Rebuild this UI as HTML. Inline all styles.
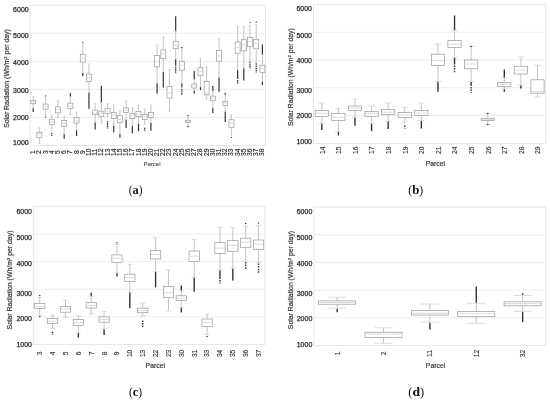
<!DOCTYPE html>
<html lang="en">
<head>
<meta charset="utf-8">
<title>Solar radiation per parcel box plots</title>
<style>
html,body{margin:0;padding:0;background:#ffffff;}
body{width:550px;height:401px;overflow:hidden;}
svg{display:block;}
.t{font-family:"Liberation Sans",Arial,sans-serif;font-size:7px;fill:#2b2b2b;stroke:#2b2b2b;stroke-width:0.25px;}
.tx{font-family:"Liberation Sans",Arial,sans-serif;fill:#2b2b2b;stroke:#2b2b2b;}
.yl{font-family:"Liberation Sans",Arial,sans-serif;font-size:6.9px;fill:#3a3a3a;stroke:#3a3a3a;stroke-width:0.2px;}
.xl{font-family:"Liberation Sans",Arial,sans-serif;fill:#3a3a3a;stroke:#3a3a3a;}
.cap{font-family:"Liberation Serif","Times New Roman",serif;font-size:12.3px;fill:#111111;}
</style>
</head>
<body>
<svg width="550" height="401" viewBox="0 0 550 401">
<rect x="0" y="0" width="550" height="401" fill="#ffffff"/>
<g class="panel-a">
<line x1="30.1" x2="265.5" y1="117.50" y2="117.50" stroke="#e8e8e8" stroke-width="0.8"/>
<line x1="30.1" x2="265.5" y1="89.40" y2="89.40" stroke="#e8e8e8" stroke-width="0.8"/>
<line x1="30.1" x2="265.5" y1="61.30" y2="61.30" stroke="#e8e8e8" stroke-width="0.8"/>
<line x1="30.1" x2="265.5" y1="33.20" y2="33.20" stroke="#e8e8e8" stroke-width="0.8"/>
<rect x="30.1" y="5.2" width="235.40" height="140.30" fill="none" stroke="#e1e1e1" stroke-width="0.8"/>
<text x="28.7" y="11.50" text-anchor="end" class="t">6000</text>
<text x="28.7" y="38.30" text-anchor="end" class="t">5000</text>
<text x="28.7" y="64.70" text-anchor="end" class="t">4000</text>
<text x="28.7" y="93.30" text-anchor="end" class="t">3000</text>
<text x="28.7" y="119.50" text-anchor="end" class="t">2000</text>
<text x="28.7" y="145.30" text-anchor="end" class="t">1000</text>
<text transform="translate(9.2,78.5) rotate(-90)" text-anchor="middle" class="yl" textLength="98.7" lengthAdjust="spacingAndGlyphs">Solar Radiation (Wh/m<tspan dy="-2" font-size="4.2">2</tspan><tspan dy="2"> per day)</tspan></text>
<text x="152" y="166.4" text-anchor="middle" class="xl" font-size="6.0" stroke-width="0.05">Parcel</text>
<path d="M33.20 96.73V100.40M33.20 103.76V107.83" stroke="#9c9c9c" stroke-width="0.60" fill="none"/>
<path d="M31.96 96.73H34.44M31.96 107.83H34.44" stroke="#c6c6c6" stroke-width="0.6" fill="none"/>
<rect x="30.72" y="100.40" width="4.96" height="3.36" fill="#ffffff" stroke="#989898" stroke-width="0.7"/>
<line x1="31.22" x2="35.18" y1="102.02" y2="102.02" stroke="#c2c2c2" stroke-width="0.6"/>
<line x1="33.20" x2="33.20" y1="108.34" y2="111.90" stroke="#333333" stroke-width="1.2"/>
<text transform="translate(35.20,152.2) rotate(-90)" text-anchor="middle" class="tx" font-size="6.7" stroke-width="0.15">1</text>
<path d="M39.39 127.78V132.26M39.39 137.46V143.56" stroke="#9c9c9c" stroke-width="0.60" fill="none"/>
<path d="M38.15 127.78H40.63M38.15 143.56H40.63" stroke="#c6c6c6" stroke-width="0.6" fill="none"/>
<rect x="36.91" y="132.26" width="4.96" height="5.20" fill="#ffffff" stroke="#989898" stroke-width="0.7"/>
<line x1="37.41" x2="41.37" y1="134.10" y2="134.10" stroke="#c2c2c2" stroke-width="0.6"/>
<text transform="translate(41.39,152.2) rotate(-90)" text-anchor="middle" class="tx" font-size="6.7" stroke-width="0.15">2</text>
<path d="M45.59 97.85V104.06M45.59 109.15V115.67" stroke="#9c9c9c" stroke-width="0.60" fill="none"/>
<path d="M44.35 97.85H46.83M44.35 115.67H46.83" stroke="#c6c6c6" stroke-width="0.6" fill="none"/>
<rect x="43.11" y="104.06" width="4.96" height="5.09" fill="#ffffff" stroke="#989898" stroke-width="0.7"/>
<line x1="43.61" x2="47.56" y1="106.91" y2="106.91" stroke="#c2c2c2" stroke-width="0.6"/>
<circle cx="45.59" cy="95.91" r="0.66" fill="#333333"/>
<circle cx="45.59" cy="117.09" r="0.66" fill="#333333"/>
<text transform="translate(47.59,152.2) rotate(-90)" text-anchor="middle" class="tx" font-size="6.7" stroke-width="0.15">3</text>
<path d="M51.78 115.67V119.23M51.78 124.42V129.11" stroke="#9c9c9c" stroke-width="0.60" fill="none"/>
<path d="M50.54 115.67H53.02M50.54 129.11H53.02" stroke="#c6c6c6" stroke-width="0.6" fill="none"/>
<rect x="49.30" y="119.23" width="4.96" height="5.19" fill="#ffffff" stroke="#989898" stroke-width="0.7"/>
<line x1="49.80" x2="53.76" y1="122.08" y2="122.08" stroke="#c2c2c2" stroke-width="0.6"/>
<line x1="51.78" x2="51.78" y1="132.77" y2="136.03" stroke="#333333" stroke-width="1.2" stroke-dasharray="1.6 0.6"/>
<text transform="translate(53.78,152.2) rotate(-90)" text-anchor="middle" class="tx" font-size="6.7" stroke-width="0.15">4</text>
<path d="M57.98 100.40V106.91M57.98 112.82V118.01" stroke="#9c9c9c" stroke-width="0.60" fill="none"/>
<path d="M56.74 100.40H59.22M56.74 118.01H59.22" stroke="#c6c6c6" stroke-width="0.6" fill="none"/>
<rect x="55.50" y="106.91" width="4.96" height="5.91" fill="#ffffff" stroke="#989898" stroke-width="0.7"/>
<line x1="56.00" x2="59.95" y1="109.56" y2="109.56" stroke="#c2c2c2" stroke-width="0.6"/>
<text transform="translate(59.97,152.2) rotate(-90)" text-anchor="middle" class="tx" font-size="6.7" stroke-width="0.15">5</text>
<path d="M64.17 116.18V120.35M64.17 126.36V133.69" stroke="#9c9c9c" stroke-width="0.60" fill="none"/>
<path d="M62.93 116.18H65.41M62.93 133.69H65.41" stroke="#c6c6c6" stroke-width="0.6" fill="none"/>
<rect x="61.69" y="120.35" width="4.96" height="6.01" fill="#ffffff" stroke="#989898" stroke-width="0.7"/>
<line x1="62.19" x2="66.15" y1="123.51" y2="123.51" stroke="#c2c2c2" stroke-width="0.6"/>
<line x1="64.17" x2="64.17" y1="134.20" y2="138.68" stroke="#333333" stroke-width="1.2"/>
<text transform="translate(66.17,152.2) rotate(-90)" text-anchor="middle" class="tx" font-size="6.7" stroke-width="0.15">6</text>
<path d="M70.37 96.73V103.14M70.37 108.54V114.85" stroke="#9c9c9c" stroke-width="0.60" fill="none"/>
<path d="M69.13 96.73H71.60M69.13 114.85H71.60" stroke="#c6c6c6" stroke-width="0.6" fill="none"/>
<rect x="67.89" y="103.14" width="4.96" height="5.40" fill="#ffffff" stroke="#989898" stroke-width="0.7"/>
<line x1="68.39" x2="72.34" y1="106.00" y2="106.00" stroke="#c2c2c2" stroke-width="0.6"/>
<line x1="70.37" x2="70.37" y1="92.96" y2="96.32" stroke="#333333" stroke-width="1.2"/>
<text transform="translate(72.36,152.2) rotate(-90)" text-anchor="middle" class="tx" font-size="6.7" stroke-width="0.15">7</text>
<path d="M76.56 112.10V117.60M76.56 123.00V129.92" stroke="#9c9c9c" stroke-width="0.60" fill="none"/>
<path d="M75.32 112.10H77.80M75.32 129.92H77.80" stroke="#c6c6c6" stroke-width="0.6" fill="none"/>
<rect x="74.08" y="117.60" width="4.96" height="5.40" fill="#ffffff" stroke="#989898" stroke-width="0.7"/>
<line x1="74.58" x2="78.54" y1="120.25" y2="120.25" stroke="#c2c2c2" stroke-width="0.6"/>
<line x1="76.56" x2="76.56" y1="130.43" y2="136.03" stroke="#333333" stroke-width="1.2"/>
<text transform="translate(78.56,152.2) rotate(-90)" text-anchor="middle" class="tx" font-size="6.7" stroke-width="0.15">8</text>
<path d="M82.76 43.89V54.48M82.76 62.11V72.60" stroke="#9c9c9c" stroke-width="0.60" fill="none"/>
<path d="M81.52 43.89H83.99M81.52 72.60H83.99" stroke="#c6c6c6" stroke-width="0.6" fill="none"/>
<rect x="80.28" y="54.48" width="4.96" height="7.63" fill="#ffffff" stroke="#989898" stroke-width="0.7"/>
<line x1="80.78" x2="84.73" y1="58.14" y2="58.14" stroke="#c2c2c2" stroke-width="0.6"/>
<circle cx="82.76" cy="42.16" r="0.66" fill="#333333"/>
<line x1="82.76" x2="82.76" y1="73.11" y2="76.37" stroke="#333333" stroke-width="1.2"/>
<text transform="translate(84.75,152.2) rotate(-90)" text-anchor="middle" class="tx" font-size="6.7" stroke-width="0.15">9</text>
<path d="M88.95 63.95V74.13M88.95 81.56V92.25" stroke="#9c9c9c" stroke-width="0.60" fill="none"/>
<path d="M87.71 63.95H90.19M87.71 92.25H90.19" stroke="#c6c6c6" stroke-width="0.6" fill="none"/>
<rect x="86.47" y="74.13" width="4.96" height="7.43" fill="#ffffff" stroke="#989898" stroke-width="0.7"/>
<line x1="86.97" x2="90.93" y1="77.59" y2="77.59" stroke="#c2c2c2" stroke-width="0.6"/>
<line x1="88.95" x2="88.95" y1="92.76" y2="108.74" stroke="#333333" stroke-width="1.2"/>
<text transform="translate(90.95,152.2) rotate(-90)" text-anchor="middle" class="tx" font-size="6.7" stroke-width="0.15">10</text>
<path d="M95.14 103.55V110.07M95.14 114.75V122.08" stroke="#9c9c9c" stroke-width="0.60" fill="none"/>
<path d="M93.91 103.55H96.38M93.91 122.08H96.38" stroke="#c6c6c6" stroke-width="0.6" fill="none"/>
<rect x="92.67" y="110.07" width="4.96" height="4.68" fill="#ffffff" stroke="#989898" stroke-width="0.7"/>
<line x1="93.17" x2="97.12" y1="113.02" y2="113.02" stroke="#c2c2c2" stroke-width="0.6"/>
<line x1="95.14" x2="95.14" y1="122.59" y2="129.51" stroke="#333333" stroke-width="1.2"/>
<text transform="translate(97.14,152.2) rotate(-90)" text-anchor="middle" class="tx" font-size="6.7" stroke-width="0.15">11</text>
<path d="M101.34 102.84V111.19M101.34 116.48V123.20" stroke="#9c9c9c" stroke-width="0.60" fill="none"/>
<path d="M100.10 102.84H102.58M100.10 123.20H102.58" stroke="#c6c6c6" stroke-width="0.6" fill="none"/>
<rect x="98.86" y="111.19" width="4.96" height="5.29" fill="#ffffff" stroke="#989898" stroke-width="0.7"/>
<line x1="99.36" x2="103.32" y1="113.33" y2="113.33" stroke="#c2c2c2" stroke-width="0.6"/>
<line x1="101.34" x2="101.34" y1="85.63" y2="102.33" stroke="#333333" stroke-width="1.2"/>
<text transform="translate(103.34,152.2) rotate(-90)" text-anchor="middle" class="tx" font-size="6.7" stroke-width="0.15">12</text>
<path d="M107.53 103.45V108.74M107.53 113.33V116.48" stroke="#9c9c9c" stroke-width="0.60" fill="none"/>
<path d="M106.30 103.45H108.77M106.30 116.48H108.77" stroke="#c6c6c6" stroke-width="0.6" fill="none"/>
<rect x="105.06" y="108.74" width="4.96" height="4.59" fill="#ffffff" stroke="#989898" stroke-width="0.7"/>
<line x1="105.56" x2="109.51" y1="111.09" y2="111.09" stroke="#c2c2c2" stroke-width="0.6"/>
<line x1="107.53" x2="107.53" y1="121.17" y2="128.50" stroke="#333333" stroke-width="1.2" stroke-dasharray="1.6 0.6"/>
<text transform="translate(109.53,152.2) rotate(-90)" text-anchor="middle" class="tx" font-size="6.7" stroke-width="0.15">13</text>
<path d="M113.73 104.85V112.35M113.73 118.43V125.43" stroke="#9c9c9c" stroke-width="0.60" fill="none"/>
<path d="M112.49 104.85H114.97M112.49 125.43H114.97" stroke="#c6c6c6" stroke-width="0.6" fill="none"/>
<rect x="111.25" y="112.35" width="4.96" height="6.08" fill="#ffffff" stroke="#989898" stroke-width="0.7"/>
<line x1="111.75" x2="115.71" y1="115.29" y2="115.29" stroke="#c2c2c2" stroke-width="0.6"/>
<line x1="113.73" x2="113.73" y1="125.93" y2="132.22" stroke="#333333" stroke-width="1.2"/>
<text transform="translate(115.73,152.2) rotate(-90)" text-anchor="middle" class="tx" font-size="6.7" stroke-width="0.15">14</text>
<path d="M119.92 110.12V115.59M119.92 122.59V133.74" stroke="#9c9c9c" stroke-width="0.60" fill="none"/>
<path d="M118.68 110.12H121.16M118.68 133.74H121.16" stroke="#c6c6c6" stroke-width="0.6" fill="none"/>
<rect x="117.45" y="115.59" width="4.96" height="7.00" fill="#ffffff" stroke="#989898" stroke-width="0.7"/>
<line x1="117.95" x2="121.90" y1="119.34" y2="119.34" stroke="#c2c2c2" stroke-width="0.6"/>
<line x1="119.92" x2="119.92" y1="134.25" y2="137.79" stroke="#333333" stroke-width="1.2"/>
<text transform="translate(121.92,152.2) rotate(-90)" text-anchor="middle" class="tx" font-size="6.7" stroke-width="0.15">15</text>
<path d="M126.12 100.79V107.89M126.12 112.35V119.34" stroke="#9c9c9c" stroke-width="0.60" fill="none"/>
<path d="M124.88 100.79H127.36M124.88 119.34H127.36" stroke="#c6c6c6" stroke-width="0.6" fill="none"/>
<rect x="123.64" y="107.89" width="4.96" height="4.46" fill="#ffffff" stroke="#989898" stroke-width="0.7"/>
<line x1="124.14" x2="128.10" y1="110.12" y2="110.12" stroke="#c2c2c2" stroke-width="0.6"/>
<line x1="126.12" x2="126.12" y1="119.85" y2="127.96" stroke="#333333" stroke-width="1.2"/>
<text transform="translate(128.12,152.2) rotate(-90)" text-anchor="middle" class="tx" font-size="6.7" stroke-width="0.15">16</text>
<path d="M132.31 107.89V113.47M132.31 118.43V125.43" stroke="#9c9c9c" stroke-width="0.60" fill="none"/>
<path d="M131.07 107.89H133.55M131.07 125.43H133.55" stroke="#c6c6c6" stroke-width="0.6" fill="none"/>
<rect x="129.84" y="113.47" width="4.96" height="4.96" fill="#ffffff" stroke="#989898" stroke-width="0.7"/>
<line x1="130.34" x2="134.29" y1="115.59" y2="115.59" stroke="#c2c2c2" stroke-width="0.6"/>
<line x1="132.31" x2="132.31" y1="125.93" y2="133.23" stroke="#333333" stroke-width="1.2"/>
<text transform="translate(134.31,152.2) rotate(-90)" text-anchor="middle" class="tx" font-size="6.7" stroke-width="0.15">17</text>
<path d="M138.51 104.85V111.44M138.51 116.51V123.40" stroke="#9c9c9c" stroke-width="0.60" fill="none"/>
<path d="M137.27 104.85H139.75M137.27 123.40H139.75" stroke="#c6c6c6" stroke-width="0.6" fill="none"/>
<rect x="136.03" y="111.44" width="4.96" height="5.07" fill="#ffffff" stroke="#989898" stroke-width="0.7"/>
<line x1="136.53" x2="140.49" y1="114.18" y2="114.18" stroke="#c2c2c2" stroke-width="0.6"/>
<line x1="138.51" x2="138.51" y1="123.91" y2="131.21" stroke="#333333" stroke-width="1.2"/>
<text transform="translate(140.51,152.2) rotate(-90)" text-anchor="middle" class="tx" font-size="6.7" stroke-width="0.15">18</text>
<path d="M144.70 109.21V114.38M144.70 119.65V124.31" stroke="#9c9c9c" stroke-width="0.60" fill="none"/>
<path d="M143.46 109.21H145.94M143.46 124.31H145.94" stroke="#c6c6c6" stroke-width="0.6" fill="none"/>
<rect x="142.22" y="114.38" width="4.96" height="5.27" fill="#ffffff" stroke="#989898" stroke-width="0.7"/>
<line x1="142.72" x2="146.68" y1="117.01" y2="117.01" stroke="#c2c2c2" stroke-width="0.6"/>
<line x1="144.70" x2="144.70" y1="127.66" y2="130.70" stroke="#333333" stroke-width="1.2" stroke-dasharray="1.6 0.6"/>
<text transform="translate(146.70,152.2) rotate(-90)" text-anchor="middle" class="tx" font-size="6.7" stroke-width="0.15">19</text>
<path d="M150.90 104.85V112.35M150.90 117.52V122.59" stroke="#9c9c9c" stroke-width="0.60" fill="none"/>
<path d="M149.66 104.85H152.14M149.66 122.59H152.14" stroke="#c6c6c6" stroke-width="0.6" fill="none"/>
<rect x="148.42" y="112.35" width="4.96" height="5.17" fill="#ffffff" stroke="#989898" stroke-width="0.7"/>
<line x1="148.92" x2="152.88" y1="114.99" y2="114.99" stroke="#c2c2c2" stroke-width="0.6"/>
<line x1="150.90" x2="150.90" y1="123.10" y2="130.70" stroke="#333333" stroke-width="1.2"/>
<text transform="translate(152.90,152.2) rotate(-90)" text-anchor="middle" class="tx" font-size="6.7" stroke-width="0.15">20</text>
<path d="M157.09 45.04V55.38M157.09 66.83V83.05" stroke="#9c9c9c" stroke-width="0.60" fill="none"/>
<path d="M155.85 45.04H158.33M155.85 83.05H158.33" stroke="#c6c6c6" stroke-width="0.6" fill="none"/>
<rect x="154.61" y="55.38" width="4.96" height="11.45" fill="#ffffff" stroke="#989898" stroke-width="0.7"/>
<line x1="155.11" x2="159.07" y1="61.66" y2="61.66" stroke="#c2c2c2" stroke-width="0.6"/>
<line x1="157.09" x2="157.09" y1="83.56" y2="93.50" stroke="#333333" stroke-width="1.2"/>
<text transform="translate(159.09,152.2) rotate(-90)" text-anchor="middle" class="tx" font-size="6.7" stroke-width="0.15">21</text>
<path d="M163.29 36.87V49.90M163.29 58.65V71.38" stroke="#9c9c9c" stroke-width="0.60" fill="none"/>
<path d="M162.05 36.87H164.53M162.05 71.38H164.53" stroke="#c6c6c6" stroke-width="0.6" fill="none"/>
<rect x="160.81" y="49.90" width="4.96" height="8.75" fill="#ffffff" stroke="#989898" stroke-width="0.7"/>
<line x1="161.31" x2="165.26" y1="54.07" y2="54.07" stroke="#c2c2c2" stroke-width="0.6"/>
<line x1="163.29" x2="163.29" y1="71.89" y2="87.47" stroke="#333333" stroke-width="1.2"/>
<text transform="translate(165.29,152.2) rotate(-90)" text-anchor="middle" class="tx" font-size="6.7" stroke-width="0.15">22</text>
<path d="M169.48 69.85V86.55M169.48 98.05V111.59" stroke="#9c9c9c" stroke-width="0.60" fill="none"/>
<path d="M168.24 69.85H170.72M168.24 111.59H170.72" stroke="#c6c6c6" stroke-width="0.6" fill="none"/>
<rect x="167.00" y="86.55" width="4.96" height="11.50" fill="#ffffff" stroke="#989898" stroke-width="0.7"/>
<line x1="167.50" x2="171.46" y1="92.96" y2="92.96" stroke="#c2c2c2" stroke-width="0.6"/>
<text transform="translate(171.48,152.2) rotate(-90)" text-anchor="middle" class="tx" font-size="6.7" stroke-width="0.15">23</text>
<path d="M175.68 31.36V41.39M175.68 48.69V58.73" stroke="#9c9c9c" stroke-width="0.60" fill="none"/>
<path d="M174.44 31.36H176.92M174.44 58.73H176.92" stroke="#c6c6c6" stroke-width="0.6" fill="none"/>
<rect x="173.20" y="41.39" width="4.96" height="7.30" fill="#ffffff" stroke="#989898" stroke-width="0.7"/>
<line x1="173.70" x2="177.65" y1="45.24" y2="45.24" stroke="#c2c2c2" stroke-width="0.6"/>
<line x1="175.68" x2="175.68" y1="16.15" y2="30.85" stroke="#333333" stroke-width="1.2"/>
<line x1="175.68" x2="175.68" y1="59.23" y2="65.82" stroke="#333333" stroke-width="1.2"/>
<line x1="175.68" x2="175.68" y1="66.83" y2="73.83" stroke="#333333" stroke-width="1.2" stroke-dasharray="1.6 0.6"/>
<text transform="translate(177.67,152.2) rotate(-90)" text-anchor="middle" class="tx" font-size="6.7" stroke-width="0.15">24</text>
<path d="M181.87 47.47V61.26M181.87 70.08V83.05" stroke="#9c9c9c" stroke-width="0.60" fill="none"/>
<path d="M180.63 47.47H183.11M180.63 83.05H183.11" stroke="#c6c6c6" stroke-width="0.6" fill="none"/>
<rect x="179.39" y="61.26" width="4.96" height="8.82" fill="#ffffff" stroke="#989898" stroke-width="0.7"/>
<line x1="179.89" x2="183.85" y1="65.31" y2="65.31" stroke="#c2c2c2" stroke-width="0.6"/>
<circle cx="181.87" cy="47.48" r="0.66" fill="#333333"/>
<line x1="181.87" x2="181.87" y1="83.56" y2="87.62" stroke="#333333" stroke-width="1.2"/>
<line x1="181.87" x2="181.87" y1="88.63" y2="94.71" stroke="#333333" stroke-width="1.2" stroke-dasharray="1.6 0.6"/>
<text transform="translate(183.87,152.2) rotate(-90)" text-anchor="middle" class="tx" font-size="6.7" stroke-width="0.15">25</text>
<path d="M188.07 115.59V120.26M188.07 122.49V126.64" stroke="#9c9c9c" stroke-width="0.60" fill="none"/>
<path d="M186.83 115.59H189.30M186.83 126.64H189.30" stroke="#c6c6c6" stroke-width="0.6" fill="none"/>
<rect x="185.59" y="120.26" width="4.96" height="2.23" fill="#ffffff" stroke="#989898" stroke-width="0.7"/>
<line x1="186.09" x2="190.04" y1="121.37" y2="121.37" stroke="#c2c2c2" stroke-width="0.6"/>
<circle cx="188.07" cy="115.59" r="0.66" fill="#333333"/>
<circle cx="188.07" cy="126.75" r="0.66" fill="#333333"/>
<text transform="translate(190.06,152.2) rotate(-90)" text-anchor="middle" class="tx" font-size="6.7" stroke-width="0.15">26</text>
<path d="M194.26 79.30V83.97M194.26 88.02V90.66" stroke="#9c9c9c" stroke-width="0.60" fill="none"/>
<path d="M193.02 79.30H195.50M193.02 90.66H195.50" stroke="#c6c6c6" stroke-width="0.6" fill="none"/>
<rect x="191.78" y="83.97" width="4.96" height="4.05" fill="#ffffff" stroke="#989898" stroke-width="0.7"/>
<line x1="192.28" x2="196.24" y1="85.99" y2="85.99" stroke="#c2c2c2" stroke-width="0.6"/>
<line x1="194.26" x2="194.26" y1="70.89" y2="78.90" stroke="#333333" stroke-width="1.2"/>
<line x1="194.26" x2="194.26" y1="91.06" y2="93.50" stroke="#333333" stroke-width="1.2"/>
<text transform="translate(196.26,152.2) rotate(-90)" text-anchor="middle" class="tx" font-size="6.7" stroke-width="0.15">27</text>
<path d="M200.46 58.22V67.65M200.46 75.45V86.60" stroke="#9c9c9c" stroke-width="0.60" fill="none"/>
<path d="M199.22 58.22H201.69M199.22 86.60H201.69" stroke="#c6c6c6" stroke-width="0.6" fill="none"/>
<rect x="197.98" y="67.65" width="4.96" height="7.80" fill="#ffffff" stroke="#989898" stroke-width="0.7"/>
<line x1="198.48" x2="202.43" y1="71.40" y2="71.40" stroke="#c2c2c2" stroke-width="0.6"/>
<line x1="200.46" x2="200.46" y1="87.11" y2="90.15" stroke="#333333" stroke-width="1.2"/>
<text transform="translate(202.45,152.2) rotate(-90)" text-anchor="middle" class="tx" font-size="6.7" stroke-width="0.15">28</text>
<path d="M206.65 66.63V81.33M206.65 94.91V98.97" stroke="#9c9c9c" stroke-width="0.60" fill="none"/>
<path d="M205.41 66.63H207.89M205.41 98.97H207.89" stroke="#c6c6c6" stroke-width="0.6" fill="none"/>
<rect x="204.17" y="81.33" width="4.96" height="13.58" fill="#ffffff" stroke="#989898" stroke-width="0.7"/>
<line x1="204.67" x2="208.63" y1="93.19" y2="93.19" stroke="#c2c2c2" stroke-width="0.6"/>
<text transform="translate(208.65,152.2) rotate(-90)" text-anchor="middle" class="tx" font-size="6.7" stroke-width="0.15">29</text>
<path d="M212.84 91.23V96.12M212.84 100.80V107.83" stroke="#9c9c9c" stroke-width="0.60" fill="none"/>
<path d="M211.61 91.23H214.08M211.61 107.83H214.08" stroke="#c6c6c6" stroke-width="0.6" fill="none"/>
<rect x="210.37" y="96.12" width="4.96" height="4.68" fill="#ffffff" stroke="#989898" stroke-width="0.7"/>
<line x1="210.87" x2="214.82" y1="98.56" y2="98.56" stroke="#c2c2c2" stroke-width="0.6"/>
<line x1="212.84" x2="212.84" y1="85.63" y2="90.72" stroke="#333333" stroke-width="1.2"/>
<line x1="212.84" x2="212.84" y1="108.34" y2="113.12" stroke="#333333" stroke-width="1.2"/>
<text transform="translate(214.84,152.2) rotate(-90)" text-anchor="middle" class="tx" font-size="6.7" stroke-width="0.15">30</text>
<path d="M219.04 38.80V50.51M219.04 61.20V77.28" stroke="#9c9c9c" stroke-width="0.60" fill="none"/>
<path d="M217.80 38.80H220.28M217.80 77.28H220.28" stroke="#c6c6c6" stroke-width="0.6" fill="none"/>
<rect x="216.56" y="50.51" width="4.96" height="10.69" fill="#ffffff" stroke="#989898" stroke-width="0.7"/>
<line x1="217.06" x2="221.02" y1="55.80" y2="55.80" stroke="#c2c2c2" stroke-width="0.6"/>
<line x1="219.04" x2="219.04" y1="77.79" y2="92.05" stroke="#333333" stroke-width="1.2"/>
<text transform="translate(221.04,152.2) rotate(-90)" text-anchor="middle" class="tx" font-size="6.7" stroke-width="0.15">31</text>
<path d="M225.23 94.90V101.31M225.23 105.38V111.19" stroke="#9c9c9c" stroke-width="0.60" fill="none"/>
<path d="M224.00 94.90H226.47M224.00 111.19H226.47" stroke="#c6c6c6" stroke-width="0.6" fill="none"/>
<rect x="222.76" y="101.31" width="4.96" height="4.07" fill="#ffffff" stroke="#989898" stroke-width="0.7"/>
<line x1="223.26" x2="227.21" y1="103.14" y2="103.14" stroke="#c2c2c2" stroke-width="0.6"/>
<line x1="225.23" x2="225.23" y1="92.66" y2="94.39" stroke="#333333" stroke-width="1.2"/>
<line x1="225.23" x2="225.23" y1="111.70" y2="122.08" stroke="#333333" stroke-width="1.2"/>
<text transform="translate(227.23,152.2) rotate(-90)" text-anchor="middle" class="tx" font-size="6.7" stroke-width="0.15">32</text>
<path d="M231.43 114.85V119.74M231.43 127.27V135.52" stroke="#9c9c9c" stroke-width="0.60" fill="none"/>
<path d="M230.19 114.85H232.67M230.19 135.52H232.67" stroke="#c6c6c6" stroke-width="0.6" fill="none"/>
<rect x="228.95" y="119.74" width="4.96" height="7.53" fill="#ffffff" stroke="#989898" stroke-width="0.7"/>
<line x1="229.45" x2="233.41" y1="123.30" y2="123.30" stroke="#c2c2c2" stroke-width="0.6"/>
<circle cx="231.43" cy="137.46" r="0.66" fill="#333333"/>
<text transform="translate(233.43,152.2) rotate(-90)" text-anchor="middle" class="tx" font-size="6.7" stroke-width="0.15">33</text>
<path d="M237.62 26.38V42.06M237.62 53.16V69.85" stroke="#9c9c9c" stroke-width="0.60" fill="none"/>
<path d="M236.38 26.38H238.86M236.38 69.85H238.86" stroke="#c6c6c6" stroke-width="0.6" fill="none"/>
<rect x="235.15" y="42.06" width="4.96" height="11.10" fill="#ffffff" stroke="#989898" stroke-width="0.7"/>
<line x1="235.65" x2="239.60" y1="47.66" y2="47.66" stroke="#c2c2c2" stroke-width="0.6"/>
<line x1="237.62" x2="237.62" y1="70.36" y2="79.02" stroke="#333333" stroke-width="1.2"/>
<line x1="237.62" x2="237.62" y1="80.03" y2="83.70" stroke="#333333" stroke-width="1.2" stroke-dasharray="1.6 0.6"/>
<text transform="translate(239.62,152.2) rotate(-90)" text-anchor="middle" class="tx" font-size="6.7" stroke-width="0.15">34</text>
<path d="M243.82 26.38V39.72M243.82 50.81V68.02" stroke="#9c9c9c" stroke-width="0.60" fill="none"/>
<path d="M242.58 26.38H245.06M242.58 68.02H245.06" stroke="#c6c6c6" stroke-width="0.6" fill="none"/>
<rect x="241.34" y="39.72" width="4.96" height="11.09" fill="#ffffff" stroke="#989898" stroke-width="0.7"/>
<line x1="241.84" x2="245.80" y1="44.91" y2="44.91" stroke="#c2c2c2" stroke-width="0.6"/>
<line x1="243.82" x2="243.82" y1="68.53" y2="80.44" stroke="#333333" stroke-width="1.2"/>
<text transform="translate(245.82,152.2) rotate(-90)" text-anchor="middle" class="tx" font-size="6.7" stroke-width="0.15">35</text>
<path d="M250.01 25.46V37.48M250.01 46.74V60.69" stroke="#9c9c9c" stroke-width="0.60" fill="none"/>
<path d="M248.77 25.46H251.25M248.77 60.69H251.25" stroke="#c6c6c6" stroke-width="0.6" fill="none"/>
<rect x="247.54" y="37.48" width="4.96" height="9.26" fill="#ffffff" stroke="#989898" stroke-width="0.7"/>
<line x1="248.04" x2="251.99" y1="41.55" y2="41.55" stroke="#c2c2c2" stroke-width="0.6"/>
<circle cx="250.01" cy="22.61" r="0.66" fill="#333333"/>
<line x1="250.01" x2="250.01" y1="61.71" y2="68.83" stroke="#333333" stroke-width="1.2" stroke-dasharray="1.6 0.6"/>
<text transform="translate(252.01,152.2) rotate(-90)" text-anchor="middle" class="tx" font-size="6.7" stroke-width="0.15">36</text>
<path d="M256.21 24.55V39.31M256.21 48.78V62.42" stroke="#9c9c9c" stroke-width="0.60" fill="none"/>
<path d="M254.97 24.55H257.45M254.97 62.42H257.45" stroke="#c6c6c6" stroke-width="0.6" fill="none"/>
<rect x="253.73" y="39.31" width="4.96" height="9.47" fill="#ffffff" stroke="#989898" stroke-width="0.7"/>
<line x1="254.23" x2="258.19" y1="43.58" y2="43.58" stroke="#c2c2c2" stroke-width="0.6"/>
<circle cx="256.21" cy="22.00" r="0.66" fill="#333333"/>
<line x1="256.21" x2="256.21" y1="63.23" y2="72.60" stroke="#333333" stroke-width="1.2" stroke-dasharray="1.6 0.6"/>
<text transform="translate(258.21,152.2) rotate(-90)" text-anchor="middle" class="tx" font-size="6.7" stroke-width="0.15">37</text>
<path d="M262.40 54.50V65.20M262.40 72.30V81.50" stroke="#9c9c9c" stroke-width="0.60" fill="none"/>
<path d="M261.16 54.50H263.64M261.16 81.50H263.64" stroke="#c6c6c6" stroke-width="0.6" fill="none"/>
<rect x="259.92" y="65.20" width="4.96" height="7.10" fill="#ffffff" stroke="#989898" stroke-width="0.7"/>
<line x1="260.42" x2="264.38" y1="68.40" y2="68.40" stroke="#c2c2c2" stroke-width="0.6"/>
<line x1="262.40" x2="262.40" y1="44.40" y2="54.30" stroke="#333333" stroke-width="1.2"/>
<line x1="262.40" x2="262.40" y1="82.00" y2="85.00" stroke="#333333" stroke-width="1.2"/>
<text transform="translate(264.40,152.2) rotate(-90)" text-anchor="middle" class="tx" font-size="6.7" stroke-width="0.15">38</text>
<text x="135.6" y="193.5" text-anchor="middle" class="cap" textLength="13.8" lengthAdjust="spacingAndGlyphs">(<tspan font-weight="bold" font-size="13.4">a</tspan>)</text>
</g>
<g class="panel-b">
<line x1="313.5" x2="545.8" y1="115.48" y2="115.48" stroke="#e8e8e8" stroke-width="0.8"/>
<line x1="313.5" x2="545.8" y1="87.76" y2="87.76" stroke="#e8e8e8" stroke-width="0.8"/>
<line x1="313.5" x2="545.8" y1="60.04" y2="60.04" stroke="#e8e8e8" stroke-width="0.8"/>
<line x1="313.5" x2="545.8" y1="32.32" y2="32.32" stroke="#e8e8e8" stroke-width="0.8"/>
<rect x="313.5" y="4.2" width="232.30" height="139.30" fill="none" stroke="#e1e1e1" stroke-width="0.8"/>
<text x="312.0" y="11.25" text-anchor="end" class="t">6000</text>
<text x="312.0" y="37.50" text-anchor="end" class="t">5000</text>
<text x="312.0" y="63.25" text-anchor="end" class="t">4000</text>
<text x="312.0" y="92.50" text-anchor="end" class="t">3000</text>
<text x="312.0" y="118.00" text-anchor="end" class="t">2000</text>
<text x="312.0" y="144.25" text-anchor="end" class="t">1000</text>
<text transform="translate(292.9,77.15) rotate(-90)" text-anchor="middle" class="yl" textLength="97.9" lengthAdjust="spacingAndGlyphs">Solar Radiation (Wh/m<tspan dy="-2" font-size="4.2">2</tspan><tspan dy="2"> per day)</tspan></text>
<text x="435.4" y="166.0" text-anchor="middle" class="xl" font-size="6.75" stroke-width="0.2">Parcel</text>
<path d="M321.80 103.00V110.40M321.80 116.40V123.30" stroke="#9c9c9c" stroke-width="0.60" fill="none"/>
<path d="M318.48 103.00H325.12M318.48 123.30H325.12" stroke="#c6c6c6" stroke-width="0.6" fill="none"/>
<rect x="315.16" y="110.40" width="13.27" height="6.00" fill="#ffffff" stroke="#989898" stroke-width="0.7"/>
<line x1="315.66" x2="327.93" y1="113.30" y2="113.30" stroke="#c2c2c2" stroke-width="0.6"/>
<line x1="321.80" x2="321.80" y1="123.80" y2="130.00" stroke="#333333" stroke-width="1.4"/>
<text transform="translate(324.70,150.3) rotate(-90)" text-anchor="middle" class="tx" font-size="6.7" stroke-width="0.1">14</text>
<path d="M338.39 108.20V113.60M338.39 120.50V131.50" stroke="#9c9c9c" stroke-width="0.60" fill="none"/>
<path d="M335.07 108.20H341.71M335.07 131.50H341.71" stroke="#c6c6c6" stroke-width="0.6" fill="none"/>
<rect x="331.75" y="113.60" width="13.27" height="6.90" fill="#ffffff" stroke="#989898" stroke-width="0.7"/>
<line x1="332.25" x2="344.53" y1="117.30" y2="117.30" stroke="#c2c2c2" stroke-width="0.6"/>
<line x1="338.39" x2="338.39" y1="132.00" y2="135.50" stroke="#333333" stroke-width="1.4"/>
<text transform="translate(341.29,150.3) rotate(-90)" text-anchor="middle" class="tx" font-size="6.7" stroke-width="0.1">15</text>
<path d="M354.98 99.00V106.00M354.98 110.40V117.30" stroke="#9c9c9c" stroke-width="0.60" fill="none"/>
<path d="M351.66 99.00H358.30M351.66 117.30H358.30" stroke="#c6c6c6" stroke-width="0.6" fill="none"/>
<rect x="348.34" y="106.00" width="13.27" height="4.40" fill="#ffffff" stroke="#989898" stroke-width="0.7"/>
<line x1="348.84" x2="361.12" y1="108.20" y2="108.20" stroke="#c2c2c2" stroke-width="0.6"/>
<line x1="354.98" x2="354.98" y1="117.80" y2="125.80" stroke="#333333" stroke-width="1.4"/>
<text transform="translate(357.88,150.3) rotate(-90)" text-anchor="middle" class="tx" font-size="6.7" stroke-width="0.1">16</text>
<path d="M371.57 106.00V111.50M371.57 116.40V123.30" stroke="#9c9c9c" stroke-width="0.60" fill="none"/>
<path d="M368.26 106.00H374.89M368.26 123.30H374.89" stroke="#c6c6c6" stroke-width="0.6" fill="none"/>
<rect x="364.94" y="111.50" width="13.27" height="4.90" fill="#ffffff" stroke="#989898" stroke-width="0.7"/>
<line x1="365.44" x2="377.71" y1="113.60" y2="113.60" stroke="#c2c2c2" stroke-width="0.6"/>
<line x1="371.57" x2="371.57" y1="123.80" y2="131.00" stroke="#333333" stroke-width="1.4"/>
<text transform="translate(374.47,150.3) rotate(-90)" text-anchor="middle" class="tx" font-size="6.7" stroke-width="0.1">17</text>
<path d="M388.17 103.00V109.50M388.17 114.50V121.30" stroke="#9c9c9c" stroke-width="0.60" fill="none"/>
<path d="M384.85 103.00H391.49M384.85 121.30H391.49" stroke="#c6c6c6" stroke-width="0.6" fill="none"/>
<rect x="381.53" y="109.50" width="13.27" height="5.00" fill="#ffffff" stroke="#989898" stroke-width="0.7"/>
<line x1="382.03" x2="394.30" y1="112.20" y2="112.20" stroke="#c2c2c2" stroke-width="0.6"/>
<line x1="388.17" x2="388.17" y1="121.80" y2="129.00" stroke="#333333" stroke-width="1.4"/>
<text transform="translate(391.07,150.3) rotate(-90)" text-anchor="middle" class="tx" font-size="6.7" stroke-width="0.1">18</text>
<path d="M404.76 107.30V112.40M404.76 117.60V122.20" stroke="#9c9c9c" stroke-width="0.60" fill="none"/>
<path d="M401.44 107.30H408.08M401.44 122.20H408.08" stroke="#c6c6c6" stroke-width="0.6" fill="none"/>
<rect x="398.12" y="112.40" width="13.27" height="5.20" fill="#ffffff" stroke="#989898" stroke-width="0.7"/>
<line x1="398.62" x2="410.90" y1="115.00" y2="115.00" stroke="#c2c2c2" stroke-width="0.6"/>
<line x1="404.76" x2="404.76" y1="125.50" y2="128.50" stroke="#333333" stroke-width="1.4" stroke-dasharray="1.5 1.1"/>
<text transform="translate(407.66,150.3) rotate(-90)" text-anchor="middle" class="tx" font-size="6.7" stroke-width="0.1">19</text>
<path d="M421.35 103.00V110.40M421.35 115.50V120.50" stroke="#9c9c9c" stroke-width="0.60" fill="none"/>
<path d="M418.03 103.00H424.67M418.03 120.50H424.67" stroke="#c6c6c6" stroke-width="0.6" fill="none"/>
<rect x="414.72" y="110.40" width="13.27" height="5.10" fill="#ffffff" stroke="#989898" stroke-width="0.7"/>
<line x1="415.22" x2="427.49" y1="113.00" y2="113.00" stroke="#c2c2c2" stroke-width="0.6"/>
<line x1="421.35" x2="421.35" y1="121.00" y2="128.50" stroke="#333333" stroke-width="1.4"/>
<text transform="translate(424.25,150.3) rotate(-90)" text-anchor="middle" class="tx" font-size="6.7" stroke-width="0.1">20</text>
<path d="M437.95 44.00V54.20M437.95 65.50V81.50" stroke="#9c9c9c" stroke-width="0.60" fill="none"/>
<path d="M434.63 44.00H441.26M434.63 81.50H441.26" stroke="#c6c6c6" stroke-width="0.6" fill="none"/>
<rect x="431.31" y="54.20" width="13.27" height="11.30" fill="#ffffff" stroke="#989898" stroke-width="0.7"/>
<line x1="431.81" x2="444.08" y1="60.40" y2="60.40" stroke="#c2c2c2" stroke-width="0.6"/>
<line x1="437.95" x2="437.95" y1="82.00" y2="91.80" stroke="#333333" stroke-width="1.4"/>
<text transform="translate(440.85,150.3) rotate(-90)" text-anchor="middle" class="tx" font-size="6.7" stroke-width="0.1">21</text>
<path d="M454.54 30.50V40.40M454.54 47.60V57.50" stroke="#9c9c9c" stroke-width="0.60" fill="none"/>
<path d="M451.22 30.50H457.86M451.22 57.50H457.86" stroke="#c6c6c6" stroke-width="0.6" fill="none"/>
<rect x="447.90" y="40.40" width="13.27" height="7.20" fill="#ffffff" stroke="#989898" stroke-width="0.7"/>
<line x1="448.40" x2="460.68" y1="44.20" y2="44.20" stroke="#c2c2c2" stroke-width="0.6"/>
<line x1="454.54" x2="454.54" y1="15.50" y2="30.00" stroke="#333333" stroke-width="1.4"/>
<line x1="454.54" x2="454.54" y1="58.00" y2="64.50" stroke="#333333" stroke-width="1.4"/>
<line x1="454.54" x2="454.54" y1="65.50" y2="72.40" stroke="#333333" stroke-width="1.4" stroke-dasharray="1.5 1.1"/>
<text transform="translate(457.44,150.3) rotate(-90)" text-anchor="middle" class="tx" font-size="6.7" stroke-width="0.1">24</text>
<path d="M471.13 46.40V60.00M471.13 68.70V81.50" stroke="#9c9c9c" stroke-width="0.60" fill="none"/>
<path d="M467.81 46.40H474.45M467.81 81.50H474.45" stroke="#c6c6c6" stroke-width="0.6" fill="none"/>
<rect x="464.49" y="60.00" width="13.27" height="8.70" fill="#ffffff" stroke="#989898" stroke-width="0.7"/>
<line x1="464.99" x2="477.27" y1="64.00" y2="64.00" stroke="#c2c2c2" stroke-width="0.6"/>
<circle cx="471.13" cy="46.40" r="0.77" fill="#333333"/>
<line x1="471.13" x2="471.13" y1="82.00" y2="86.00" stroke="#333333" stroke-width="1.4"/>
<line x1="471.13" x2="471.13" y1="87.00" y2="93.00" stroke="#333333" stroke-width="1.4" stroke-dasharray="1.5 1.1"/>
<text transform="translate(474.03,150.3) rotate(-90)" text-anchor="middle" class="tx" font-size="6.7" stroke-width="0.1">25</text>
<path d="M487.72 113.60V118.20M487.72 120.40V124.50" stroke="#9c9c9c" stroke-width="0.60" fill="none"/>
<path d="M484.41 113.60H491.04M484.41 124.50H491.04" stroke="#c6c6c6" stroke-width="0.6" fill="none"/>
<rect x="481.09" y="118.20" width="13.27" height="2.20" fill="#ffffff" stroke="#989898" stroke-width="0.7"/>
<line x1="481.59" x2="493.86" y1="119.30" y2="119.30" stroke="#c2c2c2" stroke-width="0.6"/>
<circle cx="487.72" cy="113.60" r="0.77" fill="#333333"/>
<circle cx="487.72" cy="124.60" r="0.77" fill="#333333"/>
<text transform="translate(490.62,150.3) rotate(-90)" text-anchor="middle" class="tx" font-size="6.7" stroke-width="0.1">26</text>
<path d="M504.32 77.80V82.40M504.32 86.40V89.00" stroke="#9c9c9c" stroke-width="0.60" fill="none"/>
<path d="M501.00 77.80H507.64M501.00 89.00H507.64" stroke="#c6c6c6" stroke-width="0.6" fill="none"/>
<rect x="497.68" y="82.40" width="13.27" height="4.00" fill="#ffffff" stroke="#989898" stroke-width="0.7"/>
<line x1="498.18" x2="510.45" y1="84.40" y2="84.40" stroke="#c2c2c2" stroke-width="0.6"/>
<line x1="504.32" x2="504.32" y1="69.50" y2="77.40" stroke="#333333" stroke-width="1.4"/>
<line x1="504.32" x2="504.32" y1="89.40" y2="91.80" stroke="#333333" stroke-width="1.4"/>
<text transform="translate(507.22,150.3) rotate(-90)" text-anchor="middle" class="tx" font-size="6.7" stroke-width="0.1">27</text>
<path d="M520.91 57.00V66.30M520.91 74.00V85.00" stroke="#9c9c9c" stroke-width="0.60" fill="none"/>
<path d="M517.59 57.00H524.23M517.59 85.00H524.23" stroke="#c6c6c6" stroke-width="0.6" fill="none"/>
<rect x="514.27" y="66.30" width="13.27" height="7.70" fill="#ffffff" stroke="#989898" stroke-width="0.7"/>
<line x1="514.77" x2="527.05" y1="70.00" y2="70.00" stroke="#c2c2c2" stroke-width="0.6"/>
<line x1="520.91" x2="520.91" y1="85.50" y2="88.50" stroke="#333333" stroke-width="1.4"/>
<text transform="translate(523.81,150.3) rotate(-90)" text-anchor="middle" class="tx" font-size="6.7" stroke-width="0.1">28</text>
<path d="M537.50 65.30V79.80M537.50 93.20V97.20" stroke="#9c9c9c" stroke-width="0.60" fill="none"/>
<path d="M534.18 65.30H540.82M534.18 97.20H540.82" stroke="#c6c6c6" stroke-width="0.6" fill="none"/>
<rect x="530.87" y="79.80" width="13.27" height="13.40" fill="#ffffff" stroke="#989898" stroke-width="0.7"/>
<line x1="531.37" x2="543.64" y1="91.50" y2="91.50" stroke="#c2c2c2" stroke-width="0.6"/>
<text transform="translate(540.40,150.3) rotate(-90)" text-anchor="middle" class="tx" font-size="6.7" stroke-width="0.1">29</text>
<text x="415.8" y="193.5" text-anchor="middle" class="cap" textLength="15.0" lengthAdjust="spacingAndGlyphs">(<tspan font-weight="bold" font-size="13.4">b</tspan>)</text>
</g>
<g class="panel-c">
<line x1="33.3" x2="265.0" y1="316.80" y2="316.80" stroke="#e8e8e8" stroke-width="0.8"/>
<line x1="33.3" x2="265.0" y1="289.20" y2="289.20" stroke="#e8e8e8" stroke-width="0.8"/>
<line x1="33.3" x2="265.0" y1="261.60" y2="261.60" stroke="#e8e8e8" stroke-width="0.8"/>
<line x1="33.3" x2="265.0" y1="234.00" y2="234.00" stroke="#e8e8e8" stroke-width="0.8"/>
<rect x="33.3" y="206.3" width="231.70" height="138.10" fill="none" stroke="#e1e1e1" stroke-width="0.8"/>
<text x="32.0" y="213.80" text-anchor="end" class="t">6000</text>
<text x="32.0" y="240.30" text-anchor="end" class="t">5000</text>
<text x="32.0" y="266.10" text-anchor="end" class="t">4000</text>
<text x="32.0" y="295.50" text-anchor="end" class="t">3000</text>
<text x="32.0" y="321.20" text-anchor="end" class="t">2000</text>
<text x="32.0" y="346.70" text-anchor="end" class="t">1000</text>
<text transform="translate(12.2,280) rotate(-90)" text-anchor="middle" class="yl" textLength="98.9" lengthAdjust="spacingAndGlyphs">Solar Radiation (Wh/m<tspan dy="-2" font-size="4.2">2</tspan><tspan dy="2"> per day)</tspan></text>
<text x="155.3" y="368.2" text-anchor="middle" class="xl" font-size="6.85" stroke-width="0.2">Parcel</text>
<path d="M39.74 297.50V303.60M39.74 308.60V315.00" stroke="#9c9c9c" stroke-width="0.60" fill="none"/>
<path d="M37.16 297.50H42.31M37.16 315.00H42.31" stroke="#c6c6c6" stroke-width="0.6" fill="none"/>
<rect x="34.59" y="303.60" width="10.30" height="5.00" fill="#ffffff" stroke="#989898" stroke-width="0.7"/>
<line x1="35.09" x2="44.38" y1="306.40" y2="306.40" stroke="#c2c2c2" stroke-width="0.6"/>
<circle cx="39.74" cy="295.60" r="0.77" fill="#333333"/>
<circle cx="39.74" cy="316.40" r="0.77" fill="#333333"/>
<text transform="translate(42.13,353.4) rotate(-90)" text-anchor="middle" class="tx" font-size="6.7" stroke-width="0.1">3</text>
<path d="M52.61 315.00V318.50M52.61 323.60V328.20" stroke="#9c9c9c" stroke-width="0.60" fill="none"/>
<path d="M50.03 315.00H55.18M50.03 328.20H55.18" stroke="#c6c6c6" stroke-width="0.6" fill="none"/>
<rect x="47.46" y="318.50" width="10.30" height="5.10" fill="#ffffff" stroke="#989898" stroke-width="0.7"/>
<line x1="47.96" x2="57.26" y1="321.30" y2="321.30" stroke="#c2c2c2" stroke-width="0.6"/>
<line x1="52.61" x2="52.61" y1="331.80" y2="335.00" stroke="#333333" stroke-width="1.4" stroke-dasharray="1.5 1.1"/>
<text transform="translate(55.01,353.4) rotate(-90)" text-anchor="middle" class="tx" font-size="6.7" stroke-width="0.1">4</text>
<path d="M65.48 300.00V306.40M65.48 312.20V317.30" stroke="#9c9c9c" stroke-width="0.60" fill="none"/>
<path d="M62.91 300.00H68.05M62.91 317.30H68.05" stroke="#c6c6c6" stroke-width="0.6" fill="none"/>
<rect x="60.33" y="306.40" width="10.30" height="5.80" fill="#ffffff" stroke="#989898" stroke-width="0.7"/>
<line x1="60.83" x2="70.13" y1="309.00" y2="309.00" stroke="#c2c2c2" stroke-width="0.6"/>
<text transform="translate(67.88,353.4) rotate(-90)" text-anchor="middle" class="tx" font-size="6.7" stroke-width="0.1">5</text>
<path d="M78.35 315.50V319.60M78.35 325.50V332.70" stroke="#9c9c9c" stroke-width="0.60" fill="none"/>
<path d="M75.78 315.50H80.93M75.78 332.70H80.93" stroke="#c6c6c6" stroke-width="0.6" fill="none"/>
<rect x="73.20" y="319.60" width="10.30" height="5.90" fill="#ffffff" stroke="#989898" stroke-width="0.7"/>
<line x1="73.70" x2="83.00" y1="322.70" y2="322.70" stroke="#c2c2c2" stroke-width="0.6"/>
<line x1="78.35" x2="78.35" y1="333.20" y2="337.60" stroke="#333333" stroke-width="1.4"/>
<text transform="translate(80.75,353.4) rotate(-90)" text-anchor="middle" class="tx" font-size="6.7" stroke-width="0.1">6</text>
<path d="M91.22 296.40V302.70M91.22 308.00V314.20" stroke="#9c9c9c" stroke-width="0.60" fill="none"/>
<path d="M88.65 296.40H93.80M88.65 314.20H93.80" stroke="#c6c6c6" stroke-width="0.6" fill="none"/>
<rect x="86.08" y="302.70" width="10.30" height="5.30" fill="#ffffff" stroke="#989898" stroke-width="0.7"/>
<line x1="86.58" x2="95.87" y1="305.50" y2="305.50" stroke="#c2c2c2" stroke-width="0.6"/>
<line x1="91.22" x2="91.22" y1="292.70" y2="296.00" stroke="#333333" stroke-width="1.4"/>
<text transform="translate(93.62,353.4) rotate(-90)" text-anchor="middle" class="tx" font-size="6.7" stroke-width="0.1">7</text>
<path d="M104.10 311.50V316.90M104.10 322.20V329.00" stroke="#9c9c9c" stroke-width="0.60" fill="none"/>
<path d="M101.52 311.50H106.67M101.52 329.00H106.67" stroke="#c6c6c6" stroke-width="0.6" fill="none"/>
<rect x="98.95" y="316.90" width="10.30" height="5.30" fill="#ffffff" stroke="#989898" stroke-width="0.7"/>
<line x1="99.45" x2="108.75" y1="319.50" y2="319.50" stroke="#c2c2c2" stroke-width="0.6"/>
<line x1="104.10" x2="104.10" y1="329.50" y2="335.00" stroke="#333333" stroke-width="1.4"/>
<text transform="translate(106.50,353.4) rotate(-90)" text-anchor="middle" class="tx" font-size="6.7" stroke-width="0.1">8</text>
<path d="M116.97 244.50V254.90M116.97 262.40V272.70" stroke="#9c9c9c" stroke-width="0.60" fill="none"/>
<path d="M114.39 244.50H119.54M114.39 272.70H119.54" stroke="#c6c6c6" stroke-width="0.6" fill="none"/>
<rect x="111.82" y="254.90" width="10.30" height="7.50" fill="#ffffff" stroke="#989898" stroke-width="0.7"/>
<line x1="112.32" x2="121.62" y1="258.50" y2="258.50" stroke="#c2c2c2" stroke-width="0.6"/>
<circle cx="116.97" cy="242.80" r="0.77" fill="#333333"/>
<line x1="116.97" x2="116.97" y1="273.20" y2="276.40" stroke="#333333" stroke-width="1.4"/>
<text transform="translate(119.37,353.4) rotate(-90)" text-anchor="middle" class="tx" font-size="6.7" stroke-width="0.1">9</text>
<path d="M129.84 264.20V274.20M129.84 281.50V292.00" stroke="#9c9c9c" stroke-width="0.60" fill="none"/>
<path d="M127.27 264.20H132.42M127.27 292.00H132.42" stroke="#c6c6c6" stroke-width="0.6" fill="none"/>
<rect x="124.69" y="274.20" width="10.30" height="7.30" fill="#ffffff" stroke="#989898" stroke-width="0.7"/>
<line x1="125.19" x2="134.49" y1="277.60" y2="277.60" stroke="#c2c2c2" stroke-width="0.6"/>
<line x1="129.84" x2="129.84" y1="292.50" y2="308.20" stroke="#333333" stroke-width="1.4"/>
<text transform="translate(132.24,353.4) rotate(-90)" text-anchor="middle" class="tx" font-size="6.7" stroke-width="0.1">10</text>
<path d="M142.71 303.00V308.20M142.71 312.70V315.80" stroke="#9c9c9c" stroke-width="0.60" fill="none"/>
<path d="M140.14 303.00H145.29M140.14 315.80H145.29" stroke="#c6c6c6" stroke-width="0.6" fill="none"/>
<rect x="137.57" y="308.20" width="10.30" height="4.50" fill="#ffffff" stroke="#989898" stroke-width="0.7"/>
<line x1="138.07" x2="147.36" y1="310.50" y2="310.50" stroke="#c2c2c2" stroke-width="0.6"/>
<line x1="142.71" x2="142.71" y1="320.40" y2="327.60" stroke="#333333" stroke-width="1.4" stroke-dasharray="1.5 1.1"/>
<text transform="translate(145.11,353.4) rotate(-90)" text-anchor="middle" class="tx" font-size="6.7" stroke-width="0.1">13</text>
<path d="M155.59 237.60V250.40M155.59 259.00V271.50" stroke="#9c9c9c" stroke-width="0.60" fill="none"/>
<path d="M153.01 237.60H158.16M153.01 271.50H158.16" stroke="#c6c6c6" stroke-width="0.6" fill="none"/>
<rect x="150.44" y="250.40" width="10.30" height="8.60" fill="#ffffff" stroke="#989898" stroke-width="0.7"/>
<line x1="150.94" x2="160.23" y1="254.50" y2="254.50" stroke="#c2c2c2" stroke-width="0.6"/>
<line x1="155.59" x2="155.59" y1="272.00" y2="287.30" stroke="#333333" stroke-width="1.4"/>
<text transform="translate(157.98,353.4) rotate(-90)" text-anchor="middle" class="tx" font-size="6.7" stroke-width="0.1">22</text>
<path d="M168.46 270.00V286.40M168.46 297.70V311.00" stroke="#9c9c9c" stroke-width="0.60" fill="none"/>
<path d="M165.88 270.00H171.03M165.88 311.00H171.03" stroke="#c6c6c6" stroke-width="0.6" fill="none"/>
<rect x="163.31" y="286.40" width="10.30" height="11.30" fill="#ffffff" stroke="#989898" stroke-width="0.7"/>
<line x1="163.81" x2="173.11" y1="292.70" y2="292.70" stroke="#c2c2c2" stroke-width="0.6"/>
<text transform="translate(170.86,353.4) rotate(-90)" text-anchor="middle" class="tx" font-size="6.7" stroke-width="0.1">23</text>
<path d="M181.33 291.00V295.80M181.33 300.40V307.30" stroke="#9c9c9c" stroke-width="0.60" fill="none"/>
<path d="M178.76 291.00H183.90M178.76 307.30H183.90" stroke="#c6c6c6" stroke-width="0.6" fill="none"/>
<rect x="176.18" y="295.80" width="10.30" height="4.60" fill="#ffffff" stroke="#989898" stroke-width="0.7"/>
<line x1="176.68" x2="185.98" y1="298.20" y2="298.20" stroke="#c2c2c2" stroke-width="0.6"/>
<line x1="181.33" x2="181.33" y1="285.50" y2="290.50" stroke="#333333" stroke-width="1.4"/>
<line x1="181.33" x2="181.33" y1="307.80" y2="312.50" stroke="#333333" stroke-width="1.4"/>
<text transform="translate(183.73,353.4) rotate(-90)" text-anchor="middle" class="tx" font-size="6.7" stroke-width="0.1">30</text>
<path d="M194.20 239.50V251.00M194.20 261.50V277.30" stroke="#9c9c9c" stroke-width="0.60" fill="none"/>
<path d="M191.63 239.50H196.78M191.63 277.30H196.78" stroke="#c6c6c6" stroke-width="0.6" fill="none"/>
<rect x="189.05" y="251.00" width="10.30" height="10.50" fill="#ffffff" stroke="#989898" stroke-width="0.7"/>
<line x1="189.55" x2="198.85" y1="256.20" y2="256.20" stroke="#c2c2c2" stroke-width="0.6"/>
<line x1="194.20" x2="194.20" y1="277.80" y2="291.80" stroke="#333333" stroke-width="1.4"/>
<text transform="translate(196.60,353.4) rotate(-90)" text-anchor="middle" class="tx" font-size="6.7" stroke-width="0.1">31</text>
<path d="M207.07 314.20V319.00M207.07 326.40V334.50" stroke="#9c9c9c" stroke-width="0.60" fill="none"/>
<path d="M204.50 314.20H209.65M204.50 334.50H209.65" stroke="#c6c6c6" stroke-width="0.6" fill="none"/>
<rect x="201.93" y="319.00" width="10.30" height="7.40" fill="#ffffff" stroke="#989898" stroke-width="0.7"/>
<line x1="202.43" x2="211.72" y1="322.50" y2="322.50" stroke="#c2c2c2" stroke-width="0.6"/>
<circle cx="207.07" cy="336.40" r="0.77" fill="#333333"/>
<text transform="translate(209.47,353.4) rotate(-90)" text-anchor="middle" class="tx" font-size="6.7" stroke-width="0.1">33</text>
<path d="M219.95 227.30V242.70M219.95 253.60V270.00" stroke="#9c9c9c" stroke-width="0.60" fill="none"/>
<path d="M217.37 227.30H222.52M217.37 270.00H222.52" stroke="#c6c6c6" stroke-width="0.6" fill="none"/>
<rect x="214.80" y="242.70" width="10.30" height="10.90" fill="#ffffff" stroke="#989898" stroke-width="0.7"/>
<line x1="215.30" x2="224.60" y1="248.20" y2="248.20" stroke="#c2c2c2" stroke-width="0.6"/>
<line x1="219.95" x2="219.95" y1="270.50" y2="279.00" stroke="#333333" stroke-width="1.4"/>
<line x1="219.95" x2="219.95" y1="280.00" y2="283.60" stroke="#333333" stroke-width="1.4" stroke-dasharray="1.5 1.1"/>
<text transform="translate(222.35,353.4) rotate(-90)" text-anchor="middle" class="tx" font-size="6.7" stroke-width="0.1">34</text>
<path d="M232.82 227.30V240.40M232.82 251.30V268.20" stroke="#9c9c9c" stroke-width="0.60" fill="none"/>
<path d="M230.25 227.30H235.39M230.25 268.20H235.39" stroke="#c6c6c6" stroke-width="0.6" fill="none"/>
<rect x="227.67" y="240.40" width="10.30" height="10.90" fill="#ffffff" stroke="#989898" stroke-width="0.7"/>
<line x1="228.17" x2="237.47" y1="245.50" y2="245.50" stroke="#c2c2c2" stroke-width="0.6"/>
<line x1="232.82" x2="232.82" y1="268.70" y2="280.40" stroke="#333333" stroke-width="1.4"/>
<text transform="translate(235.22,353.4) rotate(-90)" text-anchor="middle" class="tx" font-size="6.7" stroke-width="0.1">35</text>
<path d="M245.69 226.40V238.20M245.69 247.30V261.00" stroke="#9c9c9c" stroke-width="0.60" fill="none"/>
<path d="M243.12 226.40H248.27M243.12 261.00H248.27" stroke="#c6c6c6" stroke-width="0.6" fill="none"/>
<rect x="240.54" y="238.20" width="10.30" height="9.10" fill="#ffffff" stroke="#989898" stroke-width="0.7"/>
<line x1="241.04" x2="250.34" y1="242.20" y2="242.20" stroke="#c2c2c2" stroke-width="0.6"/>
<circle cx="245.69" cy="223.60" r="0.77" fill="#333333"/>
<line x1="245.69" x2="245.69" y1="262.00" y2="269.00" stroke="#333333" stroke-width="1.4" stroke-dasharray="1.5 1.1"/>
<text transform="translate(248.09,353.4) rotate(-90)" text-anchor="middle" class="tx" font-size="6.7" stroke-width="0.1">36</text>
<path d="M258.56 225.50V240.00M258.56 249.30V262.70" stroke="#9c9c9c" stroke-width="0.60" fill="none"/>
<path d="M255.99 225.50H261.14M255.99 262.70H261.14" stroke="#c6c6c6" stroke-width="0.6" fill="none"/>
<rect x="253.41" y="240.00" width="10.30" height="9.30" fill="#ffffff" stroke="#989898" stroke-width="0.7"/>
<line x1="253.91" x2="263.21" y1="244.20" y2="244.20" stroke="#c2c2c2" stroke-width="0.6"/>
<circle cx="258.56" cy="223.00" r="0.77" fill="#333333"/>
<line x1="258.56" x2="258.56" y1="263.50" y2="272.70" stroke="#333333" stroke-width="1.4" stroke-dasharray="1.5 1.1"/>
<text transform="translate(260.96,353.4) rotate(-90)" text-anchor="middle" class="tx" font-size="6.7" stroke-width="0.1">37</text>
<text x="135.6" y="396" text-anchor="middle" class="cap" textLength="13.2" lengthAdjust="spacingAndGlyphs">(<tspan font-weight="bold" font-size="13.4">c</tspan>)</text>
</g>
<g class="panel-d">
<line x1="314.0" x2="545.8" y1="317.70" y2="317.70" stroke="#e8e8e8" stroke-width="0.8"/>
<line x1="314.0" x2="545.8" y1="290.10" y2="290.10" stroke="#e8e8e8" stroke-width="0.8"/>
<line x1="314.0" x2="545.8" y1="262.50" y2="262.50" stroke="#e8e8e8" stroke-width="0.8"/>
<line x1="314.0" x2="545.8" y1="234.90" y2="234.90" stroke="#e8e8e8" stroke-width="0.8"/>
<rect x="314.0" y="207.0" width="231.80" height="138.40" fill="none" stroke="#e1e1e1" stroke-width="0.8"/>
<text x="312.3" y="213.80" text-anchor="end" class="t">6000</text>
<text x="312.3" y="240.30" text-anchor="end" class="t">5000</text>
<text x="312.3" y="266.10" text-anchor="end" class="t">4000</text>
<text x="312.3" y="295.80" text-anchor="end" class="t">3000</text>
<text x="312.3" y="320.70" text-anchor="end" class="t">2000</text>
<text x="312.3" y="346.80" text-anchor="end" class="t">1000</text>
<text transform="translate(292.9,280) rotate(-90)" text-anchor="middle" class="yl" textLength="98.3" lengthAdjust="spacingAndGlyphs">Solar Radiation (Wh/m<tspan dy="-2" font-size="4.2">2</tspan><tspan dy="2"> per day)</tspan></text>
<text x="435.6" y="368.0" text-anchor="middle" class="xl" font-size="6.9" stroke-width="0.2">Parcel</text>
<path d="M337.18 297.30V300.90M337.18 304.20V308.20" stroke="#9c9c9c" stroke-width="0.60" fill="none"/>
<path d="M327.91 297.30H346.45M327.91 308.20H346.45" stroke="#c6c6c6" stroke-width="0.6" fill="none"/>
<rect x="318.64" y="300.90" width="37.09" height="3.30" fill="#ffffff" stroke="#989898" stroke-width="0.7"/>
<line x1="319.14" x2="355.22" y1="302.50" y2="302.50" stroke="#c2c2c2" stroke-width="0.6"/>
<line x1="337.18" x2="337.18" y1="308.70" y2="312.20" stroke="#333333" stroke-width="1.4"/>
<text transform="translate(339.58,353.5) rotate(-90)" text-anchor="middle" class="tx" font-size="6.7" stroke-width="0.1">1</text>
<path d="M383.54 327.80V332.20M383.54 337.30V343.30" stroke="#9c9c9c" stroke-width="0.60" fill="none"/>
<path d="M374.27 327.80H392.81M374.27 343.30H392.81" stroke="#c6c6c6" stroke-width="0.6" fill="none"/>
<rect x="365.00" y="332.20" width="37.09" height="5.10" fill="#ffffff" stroke="#989898" stroke-width="0.7"/>
<line x1="365.50" x2="401.58" y1="334.00" y2="334.00" stroke="#c2c2c2" stroke-width="0.6"/>
<text transform="translate(385.94,353.5) rotate(-90)" text-anchor="middle" class="tx" font-size="6.7" stroke-width="0.1">2</text>
<path d="M429.90 304.00V310.40M429.90 315.00V322.20" stroke="#9c9c9c" stroke-width="0.60" fill="none"/>
<path d="M420.63 304.00H439.17M420.63 322.20H439.17" stroke="#c6c6c6" stroke-width="0.6" fill="none"/>
<rect x="411.36" y="310.40" width="37.09" height="4.60" fill="#ffffff" stroke="#989898" stroke-width="0.7"/>
<line x1="411.86" x2="447.94" y1="313.30" y2="313.30" stroke="#c2c2c2" stroke-width="0.6"/>
<line x1="429.90" x2="429.90" y1="322.70" y2="329.50" stroke="#333333" stroke-width="1.4"/>
<text transform="translate(432.30,353.5) rotate(-90)" text-anchor="middle" class="tx" font-size="6.7" stroke-width="0.1">11</text>
<path d="M476.26 303.30V311.50M476.26 316.70V323.30" stroke="#9c9c9c" stroke-width="0.60" fill="none"/>
<path d="M466.99 303.30H485.53M466.99 323.30H485.53" stroke="#c6c6c6" stroke-width="0.6" fill="none"/>
<rect x="457.72" y="311.50" width="37.09" height="5.20" fill="#ffffff" stroke="#989898" stroke-width="0.7"/>
<line x1="458.22" x2="494.30" y1="313.60" y2="313.60" stroke="#c2c2c2" stroke-width="0.6"/>
<line x1="476.26" x2="476.26" y1="286.40" y2="302.80" stroke="#333333" stroke-width="1.4"/>
<text transform="translate(478.66,353.5) rotate(-90)" text-anchor="middle" class="tx" font-size="6.7" stroke-width="0.1">12</text>
<path d="M522.62 295.50V301.80M522.62 305.80V311.50" stroke="#9c9c9c" stroke-width="0.60" fill="none"/>
<path d="M513.35 295.50H531.89M513.35 311.50H531.89" stroke="#c6c6c6" stroke-width="0.6" fill="none"/>
<rect x="504.08" y="301.80" width="37.09" height="4.00" fill="#ffffff" stroke="#989898" stroke-width="0.7"/>
<line x1="504.58" x2="540.66" y1="303.60" y2="303.60" stroke="#c2c2c2" stroke-width="0.6"/>
<line x1="522.62" x2="522.62" y1="293.30" y2="295.00" stroke="#333333" stroke-width="1.4"/>
<line x1="522.62" x2="522.62" y1="312.00" y2="322.20" stroke="#333333" stroke-width="1.4"/>
<text transform="translate(525.02,353.5) rotate(-90)" text-anchor="middle" class="tx" font-size="6.7" stroke-width="0.1">32</text>
<text x="416.2" y="396.4" text-anchor="middle" class="cap" textLength="15.9" lengthAdjust="spacingAndGlyphs">(<tspan font-weight="bold" font-size="13.4">d</tspan>)</text>
</g>
</svg>
</body>
</html>
